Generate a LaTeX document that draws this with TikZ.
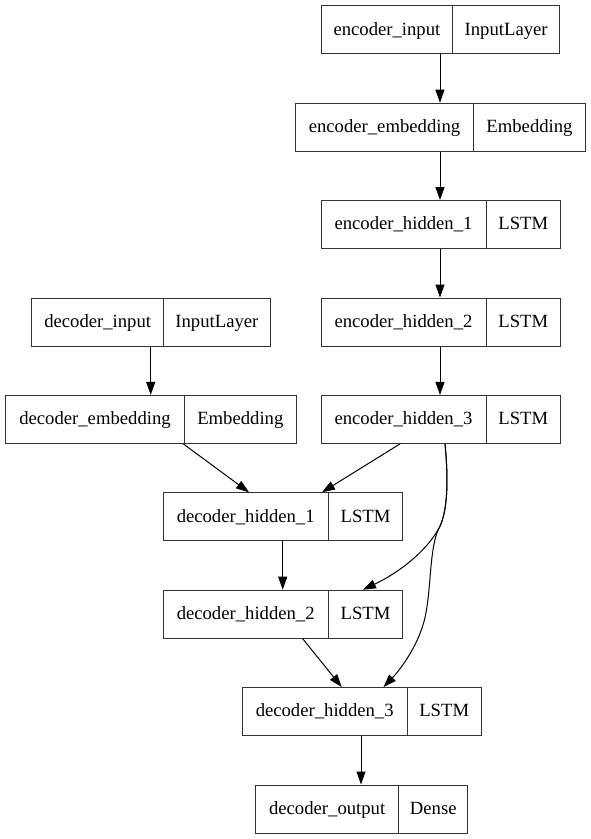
\documentclass[tikz,border=0pt]{standalone}
\usepackage{fontspec}
\setmainfont{Liberation Serif}
\usetikzlibrary{arrows.meta}
\tikzset{
  cell/.style={draw=black!80, line width=1pt, rectangle, inner sep=0pt, minimum height=48pt,
    text height=14.6pt, text depth=4pt, align=center, font=\fontsize{18.67}{22}\selectfont},
  edge/.style={draw=black, line width=1pt, -{Triangle[length=13pt,width=9pt]}}
}
\newcommand\mklayer[7]{%
  \node[cell, minimum width={#3-#2}, anchor=north west] (#1) at (#2,#5) {#6};
  \node[cell, minimum width={#4-#3}, anchor=north west] (#1t) at (#3,#5) {#7};
}
\begin{document}
\begin{tikzpicture}[x=1pt,y=-1pt]
\useasboundingbox (0,0) rectangle (591,839);
\mklayer{ein}{320.5}{452.3}{559}{5.3}{encoder\_input}{InputLayer}
\mklayer{eemb}{295}{473}{585}{102.7}{encoder\_embedding}{Embedding}
\mklayer{ehA}{320.5}{485.5}{560}{200.1}{encoder\_hidden\_1}{LSTM}
\mklayer{din}{31}{163.3}{269.5}{297.5}{decoder\_input}{InputLayer}
\mklayer{ehB}{320.5}{485.5}{560}{297.5}{encoder\_hidden\_2}{LSTM}
\mklayer{demb}{5}{184}{295.7}{394.9}{decoder\_embedding}{Embedding}
\mklayer{ehC}{320.5}{485.5}{560}{394.9}{encoder\_hidden\_3}{LSTM}
\mklayer{dhA}{162.7}{327.7}{402.3}{492.3}{decoder\_hidden\_1}{LSTM}
\mklayer{dhB}{162.7}{327.7}{402.3}{589.7}{decoder\_hidden\_2}{LSTM}
\mklayer{dhC}{241.7}{406.7}{480.7}{687.1}{decoder\_hidden\_3}{LSTM}
\mklayer{dout}{255}{398.3}{467.3}{784.5}{decoder\_output}{Dense}

\draw[edge] (ein.south -| 440,0) -- (eemb.north -| 440,0);
\draw[edge] (eemb.south -| 440,0) -- (ehA.north -| 440,0);
\draw[edge] (ehA.south -| 440,0) -- (ehB.north -| 440,0);
\draw[edge] (ehB.south -| 440,0) -- (ehC.north -| 440,0);
\draw[edge] (din.south -| 150.7,0) -- (demb.north -| 150.7,0);
\draw[edge] (demb.south -| 183.3,0) -- (dhA.north -| 249,0);
\draw[edge] (ehC.south -| 400,0) -- (dhAt.north -| 322,0);
\draw[edge] (ehC.south -| 445,0) .. controls (449,485) and (447,515) .. (438,530)
   .. controls (425,552) and (400,572) .. (dhBt.north -| 363,0);
\draw[edge] (ehC.south -| 445,0) .. controls (449,485) and (447,515) .. (438,530)
   .. controls (428,555) and (432,600) .. (422,628)
   .. controls (414,652) and (398,672) .. (dhC.north -| 383.5,0);
\draw[edge] (dhA.south -| 282.7,0) -- (dhB.north -| 282.7,0);
\draw[edge] (dhB.south -| 302.7,0) -- (dhC.north -| 341.7,0);
\draw[edge] (dhC.south -| 361,0) -- (dout.north -| 361,0);
\end{tikzpicture}
\end{document}
